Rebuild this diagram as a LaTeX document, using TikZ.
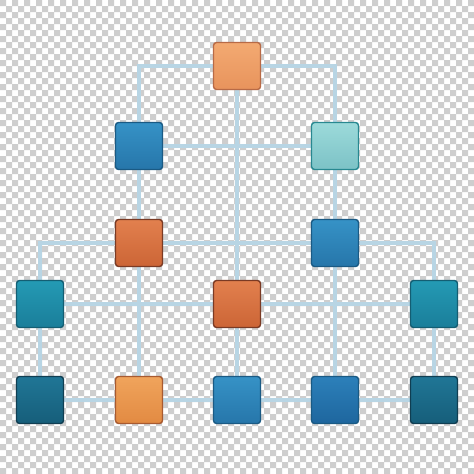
\documentclass[tikz,border=0pt]{standalone}
\usetikzlibrary{backgrounds}

\definecolor{checkgray}{RGB}{206,206,206}
\definecolor{wireblue}{RGB}{184,213,228}
\definecolor{orangetop}{RGB}{243,170,114}
\definecolor{orangebot}{RGB}{232,147,92}
\definecolor{orangeedge}{RGB}{184,106,70}
\definecolor{rusttop}{RGB}{226,128,78}
\definecolor{rustbot}{RGB}{204,101,54}
\definecolor{rustedge}{RGB}{122,58,36}
\definecolor{ambertop}{RGB}{240,164,92}
\definecolor{amberbot}{RGB}{226,138,66}
\definecolor{amberedge}{RGB}{168,90,48}
\definecolor{bluetop}{RGB}{54,146,198}
\definecolor{bluebot}{RGB}{38,118,170}
\definecolor{blueedge}{RGB}{26,90,132}
\definecolor{deepbluetop}{RGB}{44,128,186}
\definecolor{deepbluebot}{RGB}{30,102,158}
\definecolor{paletop}{RGB}{156,218,218}
\definecolor{palebot}{RGB}{124,194,198}
\definecolor{paleedge}{RGB}{40,136,144}
\definecolor{tealtop}{RGB}{36,154,180}
\definecolor{tealbot}{RGB}{26,126,154}
\definecolor{tealedge}{RGB}{20,94,115}
\definecolor{darktealtop}{RGB}{32,118,150}
\definecolor{darktealbot}{RGB}{22,94,122}
\definecolor{darktealedge}{RGB}{16,62,82}

\begin{document}
\begin{tikzpicture}[x=1pt,y=-1pt,every node/.style={draw,outer sep=0pt,line width=1.4pt,rounded corners=3pt,minimum size=47pt,inner sep=0pt}]
\tikzstyle{wire}=[line width=4pt,draw=wireblue]
\tikzstyle{orangebox}=[draw=orangeedge,top color=orangetop,bottom color=orangebot]
\tikzstyle{rustbox}=[draw=rustedge,top color=rusttop,bottom color=rustbot]
\tikzstyle{amberbox}=[draw=amberedge,top color=ambertop,bottom color=amberbot]
\tikzstyle{bluebox}=[draw=blueedge,top color=bluetop,bottom color=bluebot]
\tikzstyle{deepbluebox}=[draw=blueedge,top color=deepbluetop,bottom color=deepbluebot]
\tikzstyle{palebox}=[draw=paleedge,top color=paletop,bottom color=palebot]
\tikzstyle{tealbox}=[draw=tealedge,top color=tealtop,bottom color=tealbot]
\tikzstyle{darktealbox}=[draw=darktealedge,top color=darktealtop,bottom color=darktealbot]

\useasboundingbox (0,0) rectangle (474,474);

% levels, top to bottom
\node (top) [orangebox] at (237,66) {};

\node (midl) [bluebox] at (139,146) {};
\node (midr) [palebox] at (335,146) {};

\node (cl) [rustbox] at (139,243) {};
\node (cr) [bluebox] at (335,243) {};

\node (sl) [tealbox] at (40,304) {};
\node (sc) [rustbox] at (237,304) {};
\node (sr) [tealbox] at (434,304) {};

\node (b1) [darktealbox] at (40,400) {};
\node (b2) [amberbox] at (139,400) {};
\node (b3) [bluebox] at (237,400) {};
\node (b4) [deepbluebox] at (335,400) {};
\node (b5) [darktealbox] at (434,400) {};

\begin{scope}[on background layer]
\fill [white] (0,0) rectangle (474,474);
\clip (0,0) rectangle (474,474);
\foreach \i in {0,12,...,468}
  \foreach \j in {0,12,...,468}
    \fill [checkgray] (\i,\j) rectangle ++(6,6) (\i+6,\j+6) rectangle ++(6,6);

\draw [wire] (midl) |- (top) -| (midr);
\draw [wire] (midl) -- (midr);
\draw [wire] (top) -- (sc) -- (b3);
\draw [wire] (midl) -- (cl) -- (b2);
\draw [wire] (midr) -- (cr) -- (b4);
\draw [wire] (sl) |- (cl) -- (cr) -| (sr);
\draw [wire] (sl) -- (sc) -- (sr);
\draw [wire] (sl) -- (b1);
\draw [wire] (sr) -- (b5);
\draw [wire] (b1) -- (b2) -- (b3) -- (b4) -- (b5);
\end{scope}
\end{tikzpicture}
\end{document}
